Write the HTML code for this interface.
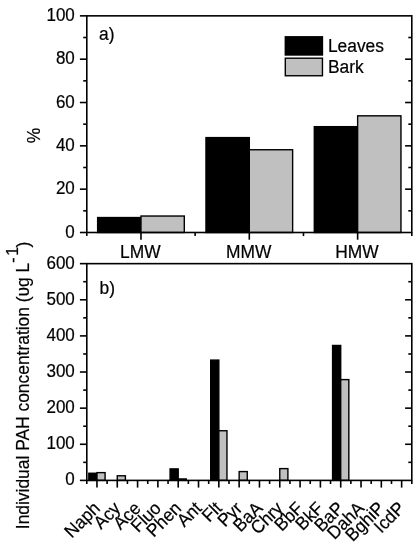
<!DOCTYPE html>
<html><head><meta charset="utf-8"><style>
html,body{margin:0;padding:0;background:#fff;}
svg{display:block;}
text{stroke:#000;stroke-width:0.2px;font-family:"Liberation Sans",Arial,sans-serif;font-size:17.4px;fill:#000;}
</style></head><body>
<svg width="417" height="550" viewBox="0 0 417 550">
<rect x="0" y="0" width="417" height="550" fill="#fff"/>
<g stroke="#000">
<rect x="97.63" y="217.55" width="43.33" height="14.95" fill="#000" stroke-width="1.4"/>
<rect x="140.97" y="216.03" width="43.33" height="16.47" fill="#c0c0c0" stroke-width="1.4"/>
<rect x="205.97" y="137.61" width="43.33" height="94.89" fill="#000" stroke-width="1.4"/>
<rect x="249.30" y="149.74" width="43.33" height="82.76" fill="#c0c0c0" stroke-width="1.4"/>
<rect x="314.30" y="126.67" width="43.33" height="105.83" fill="#000" stroke-width="1.4"/>
<rect x="357.63" y="115.83" width="43.33" height="116.67" fill="#c0c0c0" stroke-width="1.4"/>
<rect x="86.8" y="15.85" width="325.00" height="216.65" fill="none" stroke-width="1.6"/>
<line x1="79.90" y1="232.50" x2="86.80" y2="232.50" stroke-width="1.6"/>
<text transform="translate(74.80,237.50) scale(1,1.03)" text-anchor="end" style="font-size:17px">0</text>
<line x1="79.90" y1="189.17" x2="86.80" y2="189.17" stroke-width="1.6"/>
<line x1="411.80" y1="189.17" x2="405.10" y2="189.17" stroke-width="1.6"/>
<text transform="translate(74.80,194.17) scale(1,1.03)" text-anchor="end" style="font-size:17px">20</text>
<line x1="79.90" y1="145.84" x2="86.80" y2="145.84" stroke-width="1.6"/>
<line x1="411.80" y1="145.84" x2="405.10" y2="145.84" stroke-width="1.6"/>
<text transform="translate(74.80,150.84) scale(1,1.03)" text-anchor="end" style="font-size:17px">40</text>
<line x1="79.90" y1="102.51" x2="86.80" y2="102.51" stroke-width="1.6"/>
<line x1="411.80" y1="102.51" x2="405.10" y2="102.51" stroke-width="1.6"/>
<text transform="translate(74.80,107.51) scale(1,1.03)" text-anchor="end" style="font-size:17px">60</text>
<line x1="79.90" y1="59.18" x2="86.80" y2="59.18" stroke-width="1.6"/>
<line x1="411.80" y1="59.18" x2="405.10" y2="59.18" stroke-width="1.6"/>
<text transform="translate(74.80,64.18) scale(1,1.03)" text-anchor="end" style="font-size:17px">80</text>
<line x1="79.90" y1="15.85" x2="86.80" y2="15.85" stroke-width="1.6"/>
<text transform="translate(74.80,20.85) scale(1,1.03)" text-anchor="end" style="font-size:17px">100</text>
<line x1="83.20" y1="210.84" x2="86.80" y2="210.84" stroke-width="1.6"/>
<line x1="411.80" y1="210.84" x2="408.30" y2="210.84" stroke-width="1.6"/>
<line x1="83.20" y1="167.50" x2="86.80" y2="167.50" stroke-width="1.6"/>
<line x1="411.80" y1="167.50" x2="408.30" y2="167.50" stroke-width="1.6"/>
<line x1="83.20" y1="124.17" x2="86.80" y2="124.17" stroke-width="1.6"/>
<line x1="411.80" y1="124.17" x2="408.30" y2="124.17" stroke-width="1.6"/>
<line x1="83.20" y1="80.84" x2="86.80" y2="80.84" stroke-width="1.6"/>
<line x1="411.80" y1="80.84" x2="408.30" y2="80.84" stroke-width="1.6"/>
<line x1="83.20" y1="37.51" x2="86.80" y2="37.51" stroke-width="1.6"/>
<line x1="411.80" y1="37.51" x2="408.30" y2="37.51" stroke-width="1.6"/>
<line x1="140.97" y1="232.50" x2="140.97" y2="239.70" stroke-width="1.6"/>
<line x1="249.30" y1="232.50" x2="249.30" y2="239.70" stroke-width="1.6"/>
<line x1="357.63" y1="232.50" x2="357.63" y2="239.70" stroke-width="1.6"/>
<line x1="86.80" y1="232.50" x2="86.80" y2="236.10" stroke-width="1.6"/>
<line x1="195.13" y1="232.50" x2="195.13" y2="236.10" stroke-width="1.6"/>
<line x1="303.47" y1="232.50" x2="303.47" y2="236.10" stroke-width="1.6"/>
<line x1="411.80" y1="232.50" x2="411.80" y2="236.10" stroke-width="1.6"/>
<text transform="translate(140.37,257.80) scale(1,1.045)" text-anchor="middle">LMW</text>
<text transform="translate(248.70,257.80) scale(1,1.045)" text-anchor="middle">MMW</text>
<text transform="translate(357.03,257.80) scale(1,1.045)" text-anchor="middle">HMW</text>
<text transform="translate(99.00,40.30) scale(1,1.045)">a)</text>
<rect x="285.3" y="36.8" width="37.15" height="18.2" fill="#000" stroke-width="1.4"/>
<rect x="285.3" y="58.2" width="37.15" height="17.55" fill="#c0c0c0" stroke-width="1.4"/>
<text transform="translate(327.90,52.00) scale(1,1.045)">Leaves</text>
<text transform="translate(327.90,72.70) scale(1,1.045)">Bark</text>
<text transform="translate(40.20,135.60) rotate(-90) scale(1,1.045)" text-anchor="middle">%</text>
<rect x="88.83" y="473.25" width="8.12" height="7.15" fill="#000" stroke-width="1.4"/>
<rect x="96.96" y="472.63" width="8.12" height="7.77" fill="#c0c0c0" stroke-width="1.4"/>
<rect x="117.27" y="475.78" width="8.12" height="4.62" fill="#c0c0c0" stroke-width="1.4"/>
<rect x="170.08" y="468.91" width="8.12" height="11.49" fill="#000" stroke-width="1.4"/>
<rect x="178.21" y="478.95" width="8.12" height="1.45" fill="#c0c0c0" stroke-width="1.4"/>
<rect x="210.71" y="360.10" width="8.12" height="120.30" fill="#000" stroke-width="1.4"/>
<rect x="218.83" y="430.73" width="8.12" height="49.67" fill="#c0c0c0" stroke-width="1.4"/>
<rect x="239.14" y="471.59" width="8.12" height="8.81" fill="#c0c0c0" stroke-width="1.4"/>
<rect x="279.77" y="468.62" width="8.12" height="11.78" fill="#c0c0c0" stroke-width="1.4"/>
<rect x="332.58" y="345.47" width="8.12" height="134.93" fill="#000" stroke-width="1.4"/>
<rect x="340.71" y="379.61" width="8.12" height="100.79" fill="#c0c0c0" stroke-width="1.4"/>
<rect x="86.8" y="263.65" width="325.00" height="216.75" fill="none" stroke-width="1.6"/>
<line x1="79.90" y1="480.40" x2="86.80" y2="480.40" stroke-width="1.6"/>
<text transform="translate(74.80,485.40) scale(1,1.03)" text-anchor="end" style="font-size:17px">0</text>
<line x1="79.90" y1="444.27" x2="86.80" y2="444.27" stroke-width="1.6"/>
<line x1="411.80" y1="444.27" x2="405.10" y2="444.27" stroke-width="1.6"/>
<text transform="translate(74.80,449.27) scale(1,1.03)" text-anchor="end" style="font-size:17px">100</text>
<line x1="79.90" y1="408.15" x2="86.80" y2="408.15" stroke-width="1.6"/>
<line x1="411.80" y1="408.15" x2="405.10" y2="408.15" stroke-width="1.6"/>
<text transform="translate(74.80,413.15) scale(1,1.03)" text-anchor="end" style="font-size:17px">200</text>
<line x1="79.90" y1="372.02" x2="86.80" y2="372.02" stroke-width="1.6"/>
<line x1="411.80" y1="372.02" x2="405.10" y2="372.02" stroke-width="1.6"/>
<text transform="translate(74.80,377.02) scale(1,1.03)" text-anchor="end" style="font-size:17px">300</text>
<line x1="79.90" y1="335.90" x2="86.80" y2="335.90" stroke-width="1.6"/>
<line x1="411.80" y1="335.90" x2="405.10" y2="335.90" stroke-width="1.6"/>
<text transform="translate(74.80,340.90) scale(1,1.03)" text-anchor="end" style="font-size:17px">400</text>
<line x1="79.90" y1="299.77" x2="86.80" y2="299.77" stroke-width="1.6"/>
<line x1="411.80" y1="299.77" x2="405.10" y2="299.77" stroke-width="1.6"/>
<text transform="translate(74.80,304.77) scale(1,1.03)" text-anchor="end" style="font-size:17px">500</text>
<line x1="79.90" y1="263.65" x2="86.80" y2="263.65" stroke-width="1.6"/>
<text transform="translate(74.80,268.65) scale(1,1.03)" text-anchor="end" style="font-size:17px">600</text>
<line x1="83.20" y1="462.34" x2="86.80" y2="462.34" stroke-width="1.6"/>
<line x1="411.80" y1="462.34" x2="408.30" y2="462.34" stroke-width="1.6"/>
<line x1="83.20" y1="426.21" x2="86.80" y2="426.21" stroke-width="1.6"/>
<line x1="411.80" y1="426.21" x2="408.30" y2="426.21" stroke-width="1.6"/>
<line x1="83.20" y1="390.09" x2="86.80" y2="390.09" stroke-width="1.6"/>
<line x1="411.80" y1="390.09" x2="408.30" y2="390.09" stroke-width="1.6"/>
<line x1="83.20" y1="353.96" x2="86.80" y2="353.96" stroke-width="1.6"/>
<line x1="411.80" y1="353.96" x2="408.30" y2="353.96" stroke-width="1.6"/>
<line x1="83.20" y1="317.84" x2="86.80" y2="317.84" stroke-width="1.6"/>
<line x1="411.80" y1="317.84" x2="408.30" y2="317.84" stroke-width="1.6"/>
<line x1="83.20" y1="281.71" x2="86.80" y2="281.71" stroke-width="1.6"/>
<line x1="411.80" y1="281.71" x2="408.30" y2="281.71" stroke-width="1.6"/>
<line x1="96.96" y1="480.40" x2="96.96" y2="487.60" stroke-width="1.6"/>
<line x1="117.27" y1="480.40" x2="117.27" y2="487.60" stroke-width="1.6"/>
<line x1="137.58" y1="480.40" x2="137.58" y2="487.60" stroke-width="1.6"/>
<line x1="157.89" y1="480.40" x2="157.89" y2="487.60" stroke-width="1.6"/>
<line x1="178.21" y1="480.40" x2="178.21" y2="487.60" stroke-width="1.6"/>
<line x1="198.52" y1="480.40" x2="198.52" y2="487.60" stroke-width="1.6"/>
<line x1="218.83" y1="480.40" x2="218.83" y2="487.60" stroke-width="1.6"/>
<line x1="239.14" y1="480.40" x2="239.14" y2="487.60" stroke-width="1.6"/>
<line x1="259.46" y1="480.40" x2="259.46" y2="487.60" stroke-width="1.6"/>
<line x1="279.77" y1="480.40" x2="279.77" y2="487.60" stroke-width="1.6"/>
<line x1="300.08" y1="480.40" x2="300.08" y2="487.60" stroke-width="1.6"/>
<line x1="320.39" y1="480.40" x2="320.39" y2="487.60" stroke-width="1.6"/>
<line x1="340.71" y1="480.40" x2="340.71" y2="487.60" stroke-width="1.6"/>
<line x1="361.02" y1="480.40" x2="361.02" y2="487.60" stroke-width="1.6"/>
<line x1="381.33" y1="480.40" x2="381.33" y2="487.60" stroke-width="1.6"/>
<line x1="401.64" y1="480.40" x2="401.64" y2="487.60" stroke-width="1.6"/>
<line x1="86.80" y1="480.40" x2="86.80" y2="484.00" stroke-width="1.6"/>
<line x1="107.11" y1="480.40" x2="107.11" y2="484.00" stroke-width="1.6"/>
<line x1="127.42" y1="480.40" x2="127.42" y2="484.00" stroke-width="1.6"/>
<line x1="147.74" y1="480.40" x2="147.74" y2="484.00" stroke-width="1.6"/>
<line x1="168.05" y1="480.40" x2="168.05" y2="484.00" stroke-width="1.6"/>
<line x1="188.36" y1="480.40" x2="188.36" y2="484.00" stroke-width="1.6"/>
<line x1="208.68" y1="480.40" x2="208.68" y2="484.00" stroke-width="1.6"/>
<line x1="228.99" y1="480.40" x2="228.99" y2="484.00" stroke-width="1.6"/>
<line x1="249.30" y1="480.40" x2="249.30" y2="484.00" stroke-width="1.6"/>
<line x1="269.61" y1="480.40" x2="269.61" y2="484.00" stroke-width="1.6"/>
<line x1="289.93" y1="480.40" x2="289.93" y2="484.00" stroke-width="1.6"/>
<line x1="310.24" y1="480.40" x2="310.24" y2="484.00" stroke-width="1.6"/>
<line x1="330.55" y1="480.40" x2="330.55" y2="484.00" stroke-width="1.6"/>
<line x1="350.86" y1="480.40" x2="350.86" y2="484.00" stroke-width="1.6"/>
<line x1="371.18" y1="480.40" x2="371.18" y2="484.00" stroke-width="1.6"/>
<line x1="391.49" y1="480.40" x2="391.49" y2="484.00" stroke-width="1.6"/>
<line x1="411.80" y1="480.40" x2="411.80" y2="484.00" stroke-width="1.6"/>
<text transform="translate(99.50,294.20) scale(1,1.045)">b)</text>
<text transform="translate(101.16,509.40) rotate(-45) scale(1,1.045)" text-anchor="end">Naph</text>
<text transform="translate(121.47,509.40) rotate(-45) scale(1,1.045)" text-anchor="end">Acy</text>
<text transform="translate(141.78,509.40) rotate(-45) scale(1,1.045)" text-anchor="end">Ace</text>
<text transform="translate(162.09,509.40) rotate(-45) scale(1,1.045)" text-anchor="end">Fluo</text>
<text transform="translate(182.41,509.40) rotate(-45) scale(1,1.045)" text-anchor="end">Phen</text>
<text transform="translate(202.72,509.40) rotate(-45) scale(1,1.045)" text-anchor="end">Ant</text>
<text transform="translate(223.03,509.40) rotate(-45) scale(1,1.045)" text-anchor="end">Flt</text>
<text transform="translate(243.34,509.40) rotate(-45) scale(1,1.045)" text-anchor="end">Pyr</text>
<text transform="translate(263.66,509.40) rotate(-45) scale(1,1.045)" text-anchor="end">BaA</text>
<text transform="translate(283.97,509.40) rotate(-45) scale(1,1.045)" text-anchor="end">Chry</text>
<text transform="translate(304.28,509.40) rotate(-45) scale(1,1.045)" text-anchor="end">BbF</text>
<text transform="translate(324.59,509.40) rotate(-45) scale(1,1.045)" text-anchor="end">BkF</text>
<text transform="translate(344.91,509.40) rotate(-45) scale(1,1.045)" text-anchor="end">BaP</text>
<text transform="translate(365.22,509.40) rotate(-45) scale(1,1.045)" text-anchor="end">DahA</text>
<text transform="translate(385.53,509.40) rotate(-45) scale(1,1.045)" text-anchor="end">BghiP</text>
<text transform="translate(405.84,509.40) rotate(-45) scale(1,1.045)" text-anchor="end">IcdP</text>
<text transform="translate(28.60,529.20) rotate(-90) scale(1,1.045)" style="font-size:17.42px">Individual PAH concentration (υg L<tspan dy="-10" style="font-size:16px">-</tspan><tspan dx="1.5" style="font-size:16px">1</tspan><tspan dy="10" dx="-0.6">)</tspan></text>
</g>
</svg>
</body></html>
